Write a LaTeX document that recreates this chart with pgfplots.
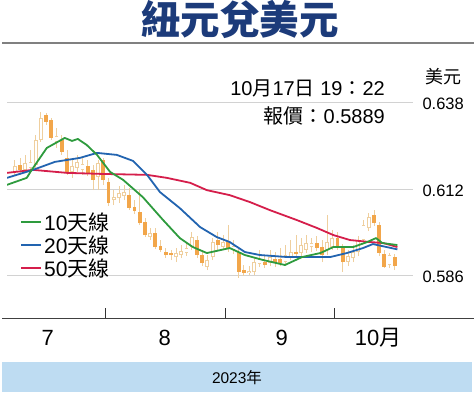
\documentclass[border=0pt]{standalone}
\usepackage{fontspec}
\setmainfont{Liberation Sans}
\newfontfamily\cjk{Noto Sans CJK TC}
\usepackage{pgfplots}
\pgfplotsset{compat=1.18}
\usepackage{pgfplotstable}

\definecolor{candleor}{HTML}{F2A64A}
\definecolor{wick}{HTML}{EFCF9E}
\definecolor{ma10}{HTML}{2E9B3E}
\definecolor{ma20}{HTML}{2264B0}
\definecolor{ma50}{HTML}{D51E4B}
\definecolor{titleblue}{HTML}{1C3B7A}
\definecolor{band}{HTML}{BEDCF2}
\definecolor{gridc}{HTML}{D2D2D2}

\pgfplotstableread{
i o h l c
0 0.6173 0.6209 0.6161 0.6191
2 0.6179 0.6224 0.6170 0.6200
3 0.6185 0.6239 0.6173 0.6203
4 0.6194 0.6284 0.6185 0.6269
5 0.6269 0.6353 0.6263 0.6335
8 0.6263 0.6305 0.6245 0.6281
11 0.6173 0.6209 0.6155 0.6191
12 0.6185 0.6224 0.6173 0.6203
13 0.6179 0.6215 0.6164 0.6197
16 0.6158 0.6209 0.6118 0.6200
19 0.6088 0.6118 0.6073 0.6097
20 0.6094 0.6131 0.6079 0.6109
21 0.6100 0.6134 0.6088 0.6112
26 0.5977 0.6004 0.5968 0.5989
31 0.5917 0.5944 0.5902 0.5929
32 0.5923 0.5953 0.5914 0.5935
33 0.5929 0.5959 0.5920 0.5944
34 0.5947 0.5992 0.5938 0.5977
37 0.5887 0.5923 0.5878 0.5908
38 0.5917 0.5974 0.5908 0.5962
40 0.5947 0.5983 0.5938 0.5962
42 0.5938 0.5968 0.5926 0.5950
45 0.5869 0.5890 0.5863 0.5875
46 0.5872 0.5914 0.5863 0.5902
47 0.5896 0.5938 0.5887 0.5911
49 0.5899 0.5938 0.5890 0.5917
52 0.5902 0.5953 0.5893 0.5923
53 0.5917 0.5968 0.5908 0.5932
55 0.5929 0.5974 0.5920 0.5953
56 0.5938 0.5983 0.5929 0.5959
57 0.5947 0.5974 0.5932 0.5959
60 0.5938 0.6043 0.5923 0.5962
61 0.5947 0.5998 0.5938 0.5974
64 0.5902 0.5938 0.5890 0.5920
65 0.5914 0.5953 0.5902 0.5932
66 0.5932 0.5980 0.5920 0.5968
67 0.5968 0.6028 0.5959 0.6013
68 0.6004 0.6049 0.5995 0.6037
72 0.5893 0.5929 0.5884 0.5923
}\upcandles

\pgfplotstableread{
i o h l c
1 0.6194 0.6215 0.6164 0.6179
6 0.6344 0.6350 0.6314 0.6323
7 0.6329 0.6335 0.6269 0.6275
9 0.6269 0.6284 0.6224 0.6233
10 0.6215 0.6239 0.6164 0.6173
14 0.6191 0.6209 0.6161 0.6170
15 0.6179 0.6194 0.6118 0.6149
17 0.6209 0.6215 0.6134 0.6149
18 0.6143 0.6155 0.6070 0.6079
22 0.6103 0.6124 0.6058 0.6064
23 0.6067 0.6088 0.6046 0.6055
24 0.6052 0.6118 0.6013 0.6019
25 0.6022 0.6034 0.5977 0.5983
27 0.5989 0.6004 0.5941 0.5947
28 0.5950 0.5968 0.5932 0.5938
29 0.5932 0.5944 0.5914 0.5923
30 0.5929 0.5938 0.5908 0.5923
35 0.5968 0.5980 0.5914 0.5923
36 0.5923 0.5938 0.5890 0.5899
39 0.5968 0.5992 0.5938 0.5953
41 0.5962 0.6013 0.5932 0.5944
43 0.5932 0.5944 0.5854 0.5872
44 0.5878 0.5893 0.5860 0.5869
48 0.5902 0.5923 0.5884 0.5893
50 0.5911 0.5932 0.5887 0.5899
51 0.5911 0.5944 0.5890 0.5899
54 0.5932 0.5983 0.5914 0.5926
58 0.5959 0.5980 0.5935 0.5944
59 0.5947 0.5968 0.5902 0.5923
62 0.5974 0.5992 0.5938 0.5947
63 0.5947 0.5956 0.5872 0.5902
69 0.6043 0.6058 0.6010 0.6019
70 0.6013 0.6022 0.5920 0.5929
71 0.5926 0.5938 0.5884 0.5887
73 0.5917 0.5926 0.5878 0.5889
}\downcandles

\pgfplotstableread{
x y
-1.5 0.6134
2.3 0.6155
3.25 0.6179
6.15 0.6245
9.6 0.6275
11.0 0.6266
12.1 0.6272
13.8 0.6254
15.8 0.6224
18.3 0.6173
20.8 0.6149
24.6 0.6097
28.5 0.6028
31.7 0.5974
34.2 0.5947
36.9 0.5929
41.3 0.5944
44.2 0.5923
47.7 0.5908
51.9 0.5893
55.2 0.5917
58.7 0.5929
61.2 0.5947
65.0 0.5947
67.7 0.5962
69.4 0.5974
70.6 0.5959
73.5 0.5953
}\maten

\pgfplotstableread{
x y
-1.5 0.6155
3.5 0.6179
7.7 0.6203
12.5 0.6215
15.8 0.6230
19.6 0.6224
22.7 0.6206
25.4 0.6164
27.9 0.6112
31.7 0.6064
35.6 0.6007
38.8 0.5977
41.3 0.5962
44.2 0.5932
47.1 0.5923
52.3 0.5917
56.2 0.5917
60.6 0.5917
63.8 0.5929
66.9 0.5944
68.8 0.5956
73.5 0.5940
}\matwenty

\pgfplotstableread{
x y
-1.5 0.6170
3.5 0.6179
10 0.6170
16.3 0.6167
25.4 0.6164
29.2 0.6155
33.7 0.6140
36.9 0.6118
41.3 0.6103
45.2 0.6082
49.0 0.6058
54.2 0.6028
58.1 0.6004
61.2 0.5983
64.4 0.5968
68.3 0.5962
70.8 0.5959
73.5 0.5947
}\mafifty

\begin{document}
\begin{tikzpicture}[x=1pt,y=1pt]
\useasboundingbox (0,0) rectangle (474,392);
\fill[band] (2,0) rectangle (472,30);
\node at (237,14) {\fontsize{15.5}{18}\selectfont 2023{\cjk 年}};
\draw[black!50, line width=1.3pt] (2,349) -- (474,349);
\node[text=titleblue] at (240,372) {\fontsize{39.5}{41}\selectfont\cjk\bfseries 紐元兌美元};
\draw[black!75, line width=0.9pt] (2,74) -- (474,74);
\begin{axis}[
  at={(7pt,74pt)}, anchor=south west, scale only axis,
  width=406pt, height=275pt,
  xmin=-1.5, xmax=76.5, ymin=0.573371, ymax=0.656036,
  axis line style={draw=none},
  ytick={0.586,0.612,0.638}, yticklabels={0.586,0.612,0.638},
  ymajorgrids, grid style={gridc, line width=1pt},
  ytick pos=right, yticklabel pos=right,
  ytick style={draw=none},
  yticklabel style={anchor=west, xshift=6pt, yshift=-1pt, font=\fontsize{16.5}{19}\selectfont},
  xtick={17.5,40.5,61.5}, xticklabels={},
  xtick pos=bottom, tick align=inside, major tick length=10pt,
  xtick style={black!80, line width=0.9pt},
  extra x ticks={6.35,28.8,51.3,69.8},
  extra x tick labels={7,8,9,10{\cjk 月}},
  extra x tick style={major tick length=0pt, xticklabel style={anchor=base, yshift=-27pt, font=\fontsize{22}{24}\selectfont}},
  legend style={at={(0.032,0.392)}, anchor=north west, draw=none, fill=none,
    font=\fontsize{21}{24}\selectfont, row sep=0pt, inner sep=0pt},
  legend cell align=left,
  legend image code/.code={\draw[#1, line width=2pt] (0pt,0pt) -- (20pt,0pt);},
  reverse legend,
  seg/.style={forget plot, mark=none, line cap=butt, quiver/every arrow/.append style={-}},
]
% wicks
\addplot[seg, wick, line width=0.7pt, quiver={u=0, v=\thisrow{h}-\thisrow{l}}]
  table[x=i, y=l] {\upcandles};
\addplot[seg, wick, line width=0.7pt, quiver={u=0, v=\thisrow{h}-\thisrow{l}}]
  table[x=i, y=l] {\downcandles};
% down bodies
\addplot[seg, candleor, line width=3.8pt, quiver={u=0, v=\thisrow{o}-\thisrow{c}}]
  table[x=i, y=c] {\downcandles};
% up bodies (hollow)
\addplot[seg, wick, line width=3.8pt, quiver={u=0, v=\thisrow{c}-\thisrow{o}}]
  table[x=i, y=o] {\upcandles};
\addplot[seg, white, line width=2.2pt, quiver={u=0, v={max(\thisrow{c}-\thisrow{o}-0.00048,0)}}]
  table[x=i, y expr=\thisrow{o}+0.00024] {\upcandles};
% moving averages
\addplot[ma50, line width=1.8pt, mark=none, line join=round] table[x=x,y=y] {\mafifty};
\addlegendentry{50{\cjk 天線}}
\addplot[ma20, line width=1.8pt, mark=none, line join=round] table[x=x,y=y] {\matwenty};
\addlegendentry{20{\cjk 天線}}
\addplot[ma10, line width=1.8pt, mark=none, line join=round] table[x=x,y=y] {\maten};
\addlegendentry{10{\cjk 天線}}
\end{axis}
\node at (443,315) {\fontsize{18}{20}\selectfont\cjk 美元};
\node[anchor=east, inner sep=0pt] at (385,304) {\fontsize{20}{22}\selectfont 10{\cjk 月}17{\cjk 日} 19{\cjk ：}22};
\node[anchor=east, inner sep=0pt] at (385,276) {\fontsize{20}{22}\selectfont {\cjk 報價：}0.5889};
\end{tikzpicture}
\end{document}
